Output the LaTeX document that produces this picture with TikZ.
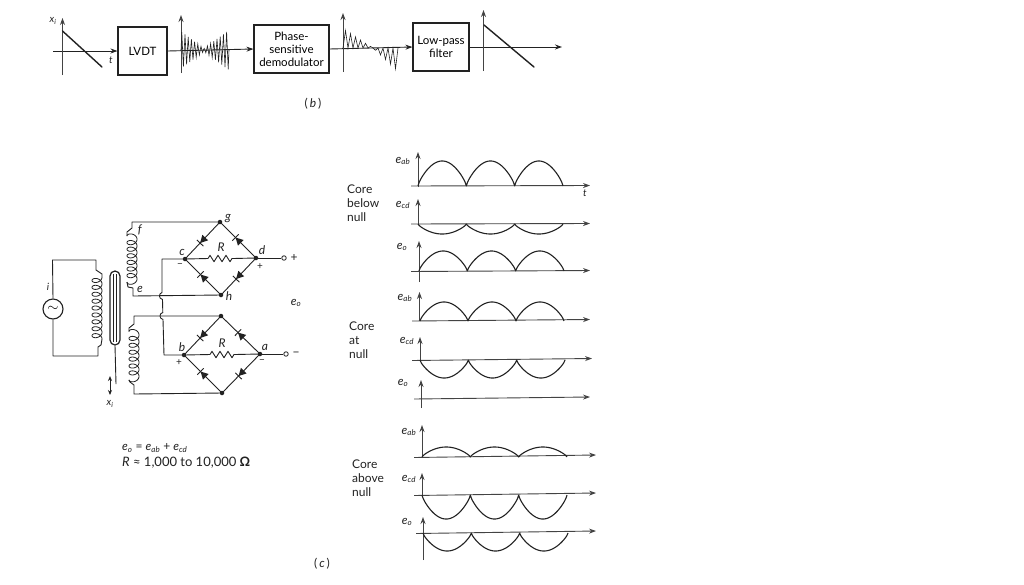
\documentclass[tikz,border=0pt]{standalone}
\usepackage{fontspec}
\setmainfont{Lato}
\usetikzlibrary{arrows.meta,calc,decorations.pathmorphing}
\definecolor{ink}{HTML}{222222}
\tikzset{
  wire/.style={draw=ink,line width=0.9pt,line join=round},
  thickw/.style={draw=ink,line width=1.4pt,line cap=round},
  ax/.style={draw=ink!85,line width=0.9pt},
  tip/.style={-{Stealth[length=7pt,width=5pt]}},
  wave/.style={draw=ink,line width=1.1pt,line join=round},
  fine/.style={draw=ink,line width=0.6pt,line join=miter},
  blockbox/.style={draw=ink,line width=1.1pt,inner sep=0pt,align=center,font=\fontsize{11.5}{13}\selectfont},
  lab/.style={inner sep=0pt,text=ink,font=\fontsize{12}{13}\selectfont},
  small/.style={inner sep=0pt,text=ink,font=\fontsize{10}{11}\selectfont},
  txt/.style={inner sep=0pt,text=ink,align=left,anchor=west,font=\fontsize{12}{14}\selectfont},
  dot/.style={circle,fill=ink,inner sep=0pt,minimum size=4.5pt},
  term/.style={circle,draw=ink,fill=white,line width=0.8pt,inner sep=0pt,minimum size=4.5pt},
}
\newcommand{\sym}[2]{\textit{#1}\textsubscript{\textit{#2}}}
% \bridgediode{from}{to}: triangle with tip towards "to", bar at tip
\newcommand{\bridgediode}[2]{%
  \coordinate (M) at ($(#1)!.5!(#2)$);
  \coordinate (T) at ($(M)!3.5pt!(#2)$);
  \coordinate (B) at ($(M)!4pt!(#1)$);
  \fill[ink] (T) -- ($(B)!4pt!90:(T)$) -- ($(B)!4pt!-90:(T)$) -- cycle;
  \draw[wire] ($(T)!4.5pt!90:(M)$) -- ($(T)!4.5pt!-90:(M)$);
}
% \archset{x0}{y}{amp(+ up, - down)}{span}
\newcommand{\archset}[4]{%
  \draw[wave] plot[domain=0:#4,samples=121] ({#1+\x},{#2-(#3)*(abs(sin(\x*(540/(#4))))+0.001)^0.75});
}
% \coil{xc}{y top}{pitch}{turns}{start phase}
\newcommand{\coil}[5]{%
  \draw[wire,line width=0.8pt] plot[domain=#5:{360*(#4)+#5},samples=300,smooth] ({#1+5*cos(\x)},{#2+(#3)*((\x-#5)/360)+3.6*sin(\x)});
}
\begin{document}
\begin{tikzpicture}[x=1pt,y=-1pt]
\useasboundingbox (0,0) rectangle (1024,584);
\fill[white] (0,0) rectangle (1024,584);

% ---------- (b) ----------
\node[blockbox,minimum width=49pt,minimum height=48pt] (lvdt) at (142.5,51) {LVDT};
\node[blockbox,minimum width=75pt,minimum height=48pt] (phase) at (291.5,49) {Phase-\\sensitive\\demodulator};
\node[blockbox,minimum width=56pt,minimum height=48pt] (low) at (441,47) {Low-pass\\filter};

\coordinate (in) at (53,51);
\coordinate (out) at (562,47);
\draw[wire,tip] (in) -- (lvdt.west);
\draw[wire,tip] (lvdt.east) -- (phase.west);
\draw[wire,tip] (phase.east) -- (low.west);
\draw[wire,tip] (low.east) -- (out);

\draw[ax,tip] (62.5,75) -- (62.5,18);
\draw[thickw] (62.5,31) -- (102,67);
\node[small] at (53,21) {\sym{x}{i}};
\node[small] at (111,60) {\textit{t}};

\draw[ax,tip] (181,73) -- (181,15);
\draw[fine] plot[domain=0:48,samples=61] ({181+\x},{50-(1.5+17*abs(\x-23)/23)*sin(\x*112.5)});

\draw[ax,tip] (343,72) -- (343,13);
\draw[fine] plot[domain=0:30,samples=13] ({343+\x},{48-19*(1-\x/30)*abs(sin(\x*36))});
\draw[fine] plot[domain=0:25,samples=11] ({373+\x},{48+23*(\x/25)*abs(sin(\x*36))});

\draw[ax,tip] (483.5,71) -- (483.5,10);
\draw[thickw] (484,25) -- (534,67);

\node[lab] at (313,104) {(\,\textit{b}\,)};

% ---------- (c) circuit ----------
\node[circle,draw=ink,line width=1.1pt,minimum size=20pt,inner sep=0pt,font=\Large] (src) at (53,309) {$\sim$};
\node[draw=ink,line width=1.2pt,rounded corners=5pt,minimum width=10pt,minimum height=74pt,inner sep=0pt] (core) at (115,308) {};
\draw[wire,line width=0.6pt] (113.5,274) -- (113.5,342);
\draw[wire,line width=0.6pt] (116.5,274) -- (116.5,342);
\coordinate (rodend) at (116,384);
\draw[wire] (core.south) -- (rodend);
\coordinate (mvA) at (110,376);
\coordinate (mvB) at (110,395);
\draw[draw=ink,line width=0.9pt,{Stealth[length=5pt,width=4pt]}-{Stealth[length=5pt,width=4pt]}] (mvA) -- (mvB);
\node[small] (xi) at (110,404) {\sym{x}{i}};
\node[small] (ilab) at (48,287) {\textit{i}};

% primary
\coil{97}{277}{6.9}{9}{0}
\draw[wire] (src.north) -- (52.5,260) -- (96,260) -- (96,270) -- (102,274) -- (102,277);
\draw[wire] (src.south) -- (53,356) -- (98,356) -- (98,347) -- (101,345) -- (102,339);

% bridge points
\coordinate (g) at (220,222);
\coordinate (c) at (185,259);
\coordinate (d) at (256,258);
\coordinate (h) at (221,295);
\coordinate (t2) at (221,316);
\coordinate (b) at (184,355);
\coordinate (a) at (260,354);
\coordinate (u) at (222,393);
\node[term] (tp) at (284,258) {};
\node[term] (tn) at (286,354) {};

% upper secondary
\coil{132}{236}{6.6}{7}{180}
\draw[wire] (g) -- (132,222) -- (132,228) -- (127,232) -- (127,236);
\draw[wire] (127,282) -- (128,287) -- (133,288) -- (133,296) -- (h);
% lower secondary
\coil{134}{331.5}{6.9}{7}{180}
\draw[wire] (t2) -- (134,316) -- (134,324) -- (129,328) -- (129,331.5);
\draw[wire] (129,380) -- (130,382) -- (134,385) -- (134,394) -- (u);
% centre link with jumps
\draw[wire] (c) -- (162,259) -- (162,292.5) .. controls (158.5,293.5) and (158.5,298.5) .. (162.5,299.5)
  -- (162.8,312.5) .. controls (159,313.5) and (159,318.5) .. (163,319.5) -- (164,355) -- (b);

% bridges
\foreach \p/\q in {g/c,h/c,d/g,d/h}{\draw[wire] (\p) -- (\q);}
\foreach \p/\q in {t2/b,u/b,a/t2,a/u}{\draw[wire] (\p) -- (\q);}
\bridgediode{g}{c}\bridgediode{h}{c}\bridgediode{d}{g}\bridgediode{d}{h}
\bridgediode{t2}{b}\bridgediode{u}{b}\bridgediode{a}{t2}\bridgediode{a}{u}

\coordinate (r1) at (208,258.5);
\coordinate (r2) at (233,258.5);
\coordinate (r3) at (210,354.5);
\coordinate (r4) at (235,354.5);
\draw[wire] (c) -- (r1);
\draw[wire,decorate,decoration={zigzag,segment length=8pt,amplitude=3.2pt}] (r1) -- (r2);
\draw[wire] (r2) -- (d);
\draw[wire] (b) -- (r3);
\draw[wire,decorate,decoration={zigzag,segment length=8pt,amplitude=3.2pt}] (r3) -- (r4);
\draw[wire] (r4) -- (a);
\draw[wire] (d) -- (tp);
\draw[wire] (a) -- (tn);

\foreach \p in {g,c,d,h,t2,b,a,u}{\node[dot] at (\p) {};}

\node[lab] at (228,219) {\textit{g}};
\node[lab] at (182,252) {\textit{c}};
\node[lab] at (262,250) {\textit{d}};
\node[lab] at (229,296) {\textit{h}};
\node[lab] at (182,347) {\textit{b}};
\node[lab] at (265,347) {\textit{a}};
\node[lab] at (221,247) {\textit{R}};
\node[lab] at (222,343) {\textit{R}};
\node[lab] at (140,230) {\textit{f}};
\node[lab] at (140,289) {\textit{e}};
\node[small] at (180,266) {\textminus};
\node[small] at (260,267) {+};
\node[small] at (179,363) {+};
\node[small] at (262,362) {\textminus};
\node[lab] at (294,258) {+};
\node[lab] at (296,354) {\textminus};
\node[lab] at (296,303) {\sym{e}{o}};

\node[txt] at (122,448) {\sym{e}{o} = \sym{e}{ab} + \sym{e}{cd}};
\node[txt,font=\fontsize{13}{14}\selectfont] at (122,463) {\textit{R} ≈ 1,000 to 10,000 \textbf{Ω}};
\node[lab] at (322,564) {(\,\textit{c}\,)};

% ---------- (c) waveforms ----------
\node[txt] at (347,203) {Core\\below\\null};
\node[txt] at (349,340) {Core\\at\\null};
\node[txt] at (352,478) {Core\\above\\null};

% group 1
\draw[ax,tip] (418,187) -- (418,152);
\draw[ax,tip] (411,186) -- (590,185.5);
\archset{418}{186}{25}{145}
\node[lab] at (403,161) {\sym{e}{ab}};
\node[small] at (585,193) {\textit{t}};
\draw[ax,tip] (418,225) -- (418,199);
\draw[ax,tip] (411,224) -- (590,223.5);
\archset{418}{224}{-10}{145}
\node[lab] at (403,205) {\sym{e}{cd}};
\draw[ax,tip] (419,282) -- (419,241);
\draw[ax,tip] (411,271.5) -- (590,270.5);
\archset{419}{271}{20}{145}
\node[lab] at (402,247) {\sym{e}{o}};

% group 2
\draw[ax,tip] (419.5,321) -- (419.5,292);
\draw[ax,tip] (412,321) -- (590,319.5);
\archset{420}{321}{19}{144}
\node[lab] at (405,298) {\sym{e}{ab}};
\draw[ax,tip] (420,361) -- (420,337);
\draw[ax,tip] (412,360.5) -- (592,358.5);
\archset{420}{360}{-18}{145}
\node[lab] at (407,341) {\sym{e}{cd}};
\draw[ax,tip] (421,408) -- (421,380);
\draw[ax,tip] (414,399) -- (590,397);
\node[lab] at (403,383) {\sym{e}{o}};

% group 3
\draw[ax,tip] (422,458) -- (422,425);
\draw[ax,tip] (414,457.5) -- (596,455);
\archset{422}{457}{10}{145}
\node[lab] at (409,432) {\sym{e}{ab}};
\draw[ax,tip] (422,496) -- (422,473);
\draw[ax,tip] (414,495.5) -- (596,493);
\archset{422}{495}{-24}{145}
\node[lab] at (409,479) {\sym{e}{cd}};
\draw[ax,tip] (423,560) -- (423,517);
\draw[ax,tip] (416,533.5) -- (596,531);
\archset{423}{533}{-18}{145}
\node[lab] at (407,522) {\sym{e}{o}};
\end{tikzpicture}
\end{document}
